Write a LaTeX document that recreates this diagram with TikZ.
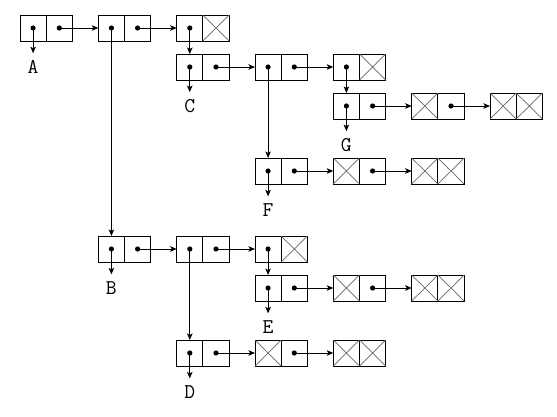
\documentclass[tikz,border=0pt]{standalone}
\usetikzlibrary{arrows.meta}
\tikzset{
 box/.style={draw, line width=0.9pt, minimum width=26.2pt, minimum height=26pt, inner sep=0pt, outer sep=0pt, anchor=north west},
 ptr/.style={-{Stealth[length=6.5pt,width=5.5pt,inset=1.5pt]}, line width=0.9pt},
 xline/.style={draw=black!60, line width=0.7pt},
 lab/.style={font=\ttfamily\fontsize{21}{23}\selectfont, inner sep=7pt},
}
\newcommand\dotat[1]{\fill (#1.center) circle (2.6pt);}
\newcommand\crossat[1]{\draw[xline] (#1.north west)--(#1.south east) (#1.north east)--(#1.south west);}
\newcommand\mkcell[3]{%
 \node[box] (#1a) at (#2,#3) {};
 \node[box] (#1d) at (#1a.north east) {};}
\begin{document}
\begin{tikzpicture}[x=1pt,y=-1pt]
\useasboundingbox (0,0) rectangle (557,417);
\mkcell{p11}{20}{15}\mkcell{p12}{98.3}{15}\mkcell{p13}{176.7}{15}
\mkcell{p21}{176.7}{54}\mkcell{p22}{255}{54}\mkcell{p23}{333.3}{54}
\mkcell{p31}{333.3}{93}\mkcell{p32}{411.7}{93}\mkcell{p33}{490}{93}
\mkcell{p41}{255}{158}\mkcell{p42}{333.3}{158}\mkcell{p43}{411.7}{158}
\mkcell{p51}{98.3}{236}\mkcell{p52}{176.7}{236}\mkcell{p53}{255}{236}
\mkcell{p61}{255}{275}\mkcell{p62}{333.3}{275}\mkcell{p63}{411.7}{275}
\mkcell{p71}{176.7}{340}\mkcell{p72}{255}{340}\mkcell{p73}{333.3}{340}
% crosses
\crossat{p13d}\crossat{p23d}
\crossat{p32a}\crossat{p33a}\crossat{p33d}
\crossat{p42a}\crossat{p43a}\crossat{p43d}
\crossat{p53d}
\crossat{p62a}\crossat{p63a}\crossat{p63d}
\crossat{p72a}\crossat{p73a}\crossat{p73d}
% dots
\dotat{p11a}\dotat{p11d}\dotat{p12a}\dotat{p12d}\dotat{p13a}
\dotat{p21a}\dotat{p21d}\dotat{p22a}\dotat{p22d}\dotat{p23a}
\dotat{p31a}\dotat{p31d}\dotat{p32d}
\dotat{p41a}\dotat{p41d}\dotat{p42d}
\dotat{p51a}\dotat{p51d}\dotat{p52a}\dotat{p52d}\dotat{p53a}
\dotat{p61a}\dotat{p61d}\dotat{p62d}
\dotat{p71a}\dotat{p71d}\dotat{p72d}
% horizontal pointers
\foreach \r in {1,...,7}{
 \draw[ptr] (p\r1d.center) -- (p\r2a.west);
 \draw[ptr] (p\r2d.center) -- (p\r3a.west);
}
% vertical pointers
\draw[ptr] (p12a.center) -- (p51a.north);
\draw[ptr] (p13a.center) -- (p21a.north);
\draw[ptr] (p22a.center) -- (p41a.north);
\draw[ptr] (p23a.center) -- (p31a.north);
\draw[ptr] (p52a.center) -- (p71a.north);
\draw[ptr] (p53a.center) -- (p61a.north);
% labels
\node[lab] (lA) at (p11a.south) [yshift=-26pt] {A};
\node[lab] (lC) at (p21a.south) [yshift=-26pt] {C};
\node[lab] (lG) at (p31a.south) [yshift=-26pt] {G};
\node[lab] (lF) at (p41a.south) [yshift=-26pt] {F};
\node[lab] (lB) at (p51a.south) [yshift=-26pt] {B};
\node[lab] (lE) at (p61a.south) [yshift=-26pt] {E};
\node[lab] (lD) at (p71a.south) [yshift=-26pt] {D};
\draw[ptr] (p11a.center) -- (lA);
\draw[ptr] (p21a.center) -- (lC);
\draw[ptr] (p31a.center) -- (lG);
\draw[ptr] (p41a.center) -- (lF);
\draw[ptr] (p51a.center) -- (lB);
\draw[ptr] (p61a.center) -- (lE);
\draw[ptr] (p71a.center) -- (lD);
\end{tikzpicture}
\end{document}
